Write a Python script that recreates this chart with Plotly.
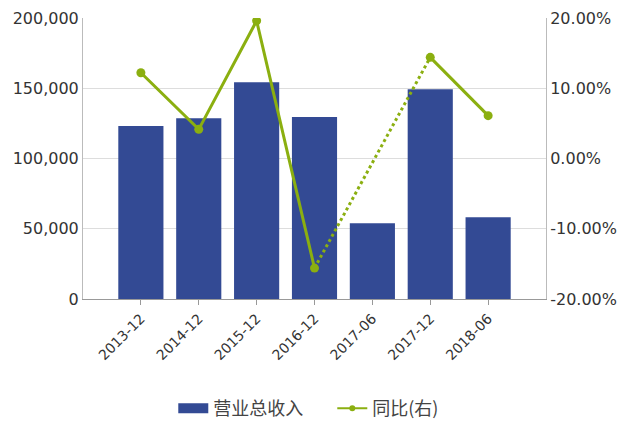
import plotly.graph_objects as go

# данные
periods = ["2013-12", "2014-12", "2015-12", "2016-12", "2017-06", "2017-12", "2018-06"]
revenue = [123100, 128600, 154200, 129500, 53900, 149200, 58100]
yoy = [12.2, 4.15, 19.6, -15.6, None, 14.4, 6.1]

bar_color = "#334A94"
line_color = "#8BAF10"

fig = go.Figure()

fig.add_trace(go.Bar(
    x=periods, y=revenue, name="营业总收入", showlegend=False,
    marker=dict(color=bar_color, line=dict(width=0)),
    width=0.78,
))

fig.add_trace(go.Scatter(
    x=periods, y=yoy, name="同比(右)", yaxis="y2", showlegend=False,
    mode="lines+markers",
    line=dict(color=line_color, width=3),
    marker=dict(color=line_color, size=9),
    connectgaps=False,
))

# пунктир через пропущенный период
fig.add_trace(go.Scatter(
    x=[periods[3], periods[5]], y=[yoy[3], yoy[5]], yaxis="y2",
    mode="lines", showlegend=False, hoverinfo="skip",
    line=dict(color=line_color, width=3, dash="dot"),
))

# значки легенды как в оригинале (широкий прямоугольник и тонкая линия)
fig.add_trace(go.Scatter(
    x=[None], y=[None], name="营业总收入", mode="lines",
    line=dict(color=bar_color, width=13), legendrank=1,
))
fig.add_trace(go.Scatter(
    x=[None], y=[None], name="同比(右)", mode="lines+markers", yaxis="y2",
    line=dict(color=line_color, width=2), marker=dict(color=line_color, size=6),
    legendrank=2,
))

# страница имеет отступ 8px, поэтому фигура чуть меньше окна
fig.update_layout(
    width=624, height=417,
    margin=dict(l=75, r=86, t=10, b=126, autoexpand=False),
    plot_bgcolor="white", paper_bgcolor="white",
    font=dict(family="DejaVu Sans", color="#333333", size=16),
    xaxis=dict(
        type="category", range=[-1, 7], automargin=False,
        tickangle=-45, tickfont=dict(size=14),
        ticks="outside", ticklen=5, tickcolor="#999999",
        showline=True, linecolor="#999999", linewidth=1,
        showgrid=False,
    ),
    yaxis=dict(
        range=[0, 200000], tickvals=[0, 50000, 100000, 150000, 200000],
        tickformat=",d", showgrid=True, gridcolor="#dddddd", automargin=False,
        showline=True, linecolor="#bbbbbb", zeroline=False,
    ),
    yaxis2=dict(
        overlaying="y", side="right", range=[-20, 20], automargin=False,
        tickvals=[-20, -10, 0, 10, 20],
        ticktext=["-20.00%", "-10.00%", "0.00%", "10.00%", "20.00%"],
        showgrid=False, showline=True, linecolor="#bbbbbb", zeroline=False,
    ),
    legend=dict(
        orientation="h", x=0.195, xanchor="left", y=-0.39, yanchor="middle",
        font=dict(size=18, family="Noto Sans CJK SC", color="#444444"),
        entrywidth=114,
    ),
    showlegend=True,
    bargap=0.2,
)

fig.write_html("out.html")
